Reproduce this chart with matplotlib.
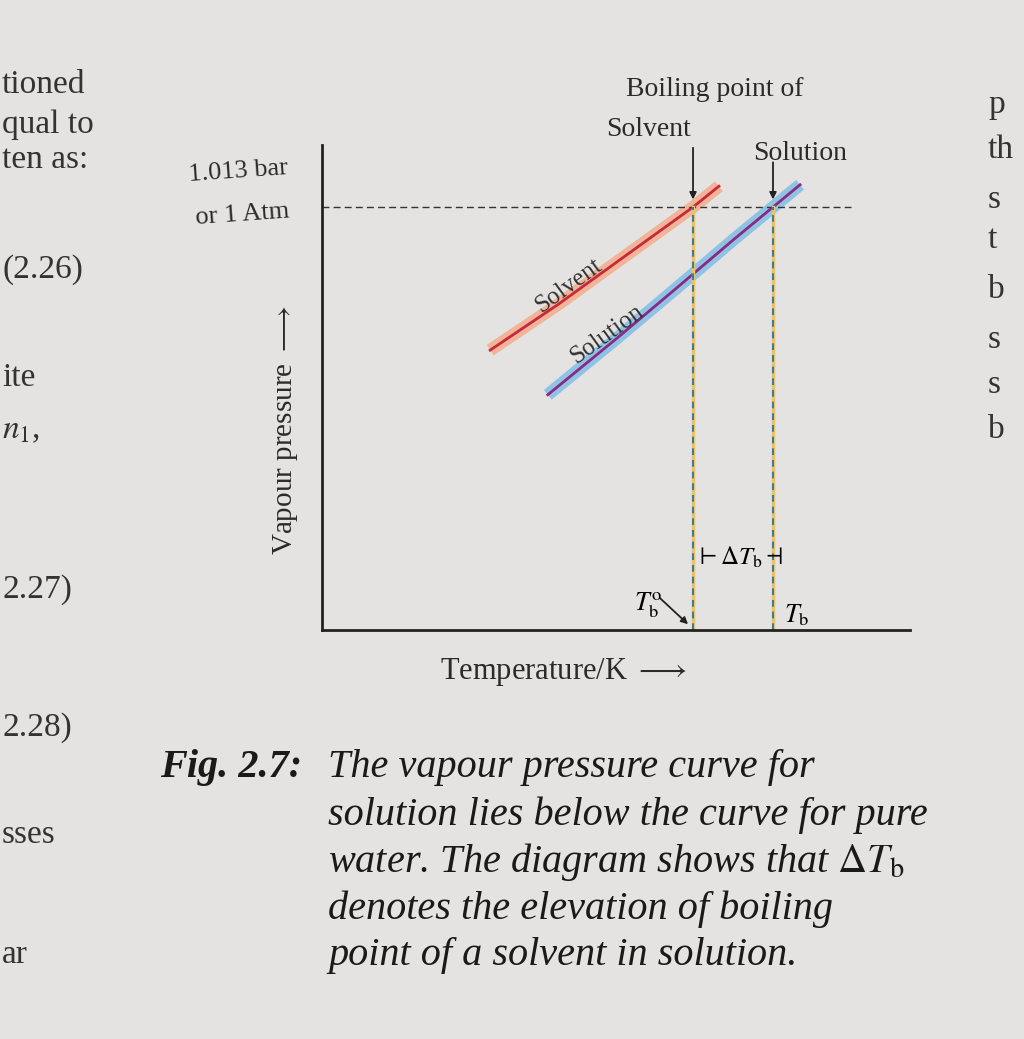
import matplotlib.pyplot as plt

W, H = 1024, 1039

# vapour pressure curves (temperature, pressure) in arbitrary units
solvent_t = [28.6, 40.0, 52.0, 63.1, 67.5]
solvent_p = [57.7, 67.0, 77.5, 87.2, 91.5]
solution_t = [38.4, 50.0, 60.0, 70.0, 76.7, 81.3]
solution_p = [48.5, 60.0, 70.2, 80.5, 87.2, 91.8]
p_atm = 87.2
tb0 = 63.1
tb = 76.7

plt.rcParams['font.family'] = ['Liberation Serif', 'DejaVu Serif']
plt.rcParams['mathtext.fontset'] = 'stix'

fig = plt.figure(figsize=(W / 100, H / 100), dpi=100)
fig.patch.set_facecolor('#e4e3e1')

def fx(px):
    return px / W

def fy(py):
    return 1 - py / H

ax = fig.add_axes([fx(322), fy(630), (910 - 322) / W, (630 - 145) / H])
ax.set_xlim(0, 100)
ax.set_ylim(0, 100)
ax.set_facecolor('none')
for s in ['top', 'right']:
    ax.spines[s].set_visible(False)
for s in ['left', 'bottom']:
    ax.spines[s].set_linewidth(2)
    ax.spines[s].set_color('#222222')
ax.set_xticks([])
ax.set_yticks([])

ax.plot(solvent_t, solvent_p, color='#f1b497', lw=9, solid_capstyle='butt')
ax.plot(solvent_t, solvent_p, color='#c8283c', lw=2)
ax.plot(solution_t, solution_p, color='#8fc3e6', lw=9, solid_capstyle='butt')
ax.plot(solution_t, solution_p, color='#8a2a80', lw=2)

ax.axhline(p_atm, xmin=0, xmax=0.9, color='#333333', ls=(0, (5, 3)), lw=1)
for t in (tb0, tb):
    ax.plot([t, t], [0, p_atm], color='#e8c36a', lw=2.5)
    ax.plot([t, t], [0, p_atm], color='#1a6f9a', lw=1.2, ls=(0, (4, 3)))

ax.annotate('', xy=(tb0, p_atm + 1), xytext=(tb0, 100),
            arrowprops=dict(arrowstyle='-|>', color='#222222', lw=1.3))
ax.annotate('', xy=(tb, p_atm + 1), xytext=(tb, 97),
            arrowprops=dict(arrowstyle='-|>', color='#222222', lw=1.3))
ax.annotate('', xy=(tb0 - 0.5, 0.8), xytext=(tb0 - 6, 7),
            arrowprops=dict(arrowstyle='-|>', color='#222222', lw=1.3))

ax.text(42, 71, 'Solvent', rotation=36, fontsize=18, ha='center', va='center',
        color='#333333', clip_on=False)
ax.text(48.5, 61, 'Solution', rotation=36, fontsize=18, ha='center', va='center',
        color='#333333', clip_on=False)
ax.text(tb0 + 0.5, 15, r'$\vdash\Delta T_{\rm b}\dashv$', fontsize=18, va='center')
ax.text(tb0 - 10, 4, r'$T_{\rm b}^{\rm o}$', fontsize=19)
ax.text(tb + 1.8, 1.5, r'$T_{\rm b}$', fontsize=19)

ink = '#2a2a2a'
fig.text(fx(626), fy(90), 'Boiling point of', fontsize=20, color=ink, va='center')
fig.text(fx(606), fy(130), 'Solvent', fontsize=20, color=ink, va='center')
fig.text(fx(753), fy(153), 'Solution', fontsize=20, color=ink, va='center')
fig.text(fx(188), fy(172), '1.013 bar', fontsize=19, color=ink, va='center', rotation=4)
fig.text(fx(195), fy(215), 'or 1 Atm', fontsize=19, color=ink, va='center', rotation=4)
fig.text(fx(286), fy(430), r'Vapour pressure $\longrightarrow$', fontsize=21, color=ink,
         rotation=90, ha='center', va='center')
fig.text(fx(440), fy(672), r'Temperature/K $\longrightarrow$', fontsize=22, color=ink,
         va='center')

cap = dict(fontsize=29, style='italic', color='#1a1a1a', va='center')
fig.text(fx(160), fy(768), 'Fig. 2.7:', fontweight='bold', **cap)
lines = ['The vapour pressure curve for',
         'solution lies below the curve for pure',
         r'water. The diagram shows that $\Delta T_{\rm b}$',
         'denotes the elevation of boiling',
         'point of a solvent in solution.']
for i, line in enumerate(lines):
    fig.text(fx(328), fy(768 + 47 * i), line, **cap)

# fragments of neighbouring page
left = [('tioned', 85), ('qual to', 125), ('ten as:', 160), ('(2.26)', 270),
        ('ite', 378), (r'$n_1$,', 430), ('2.27)', 590), ('2.28)', 728),
        ('sses', 835), ('ar', 955)]
for txt, y in left:
    fig.text(fx(2), fy(y), txt, fontsize=24, color='#333333', va='center')
right = [('p', 105), ('th', 150), ('s', 200), ('t', 240), ('b', 290),
         ('s', 340), ('s', 385), ('b', 430)]
for txt, y in right:
    fig.text(fx(988), fy(y), txt, fontsize=24, color='#333333', va='center')

fig.savefig('out.png', dpi=100, facecolor=fig.get_facecolor())
